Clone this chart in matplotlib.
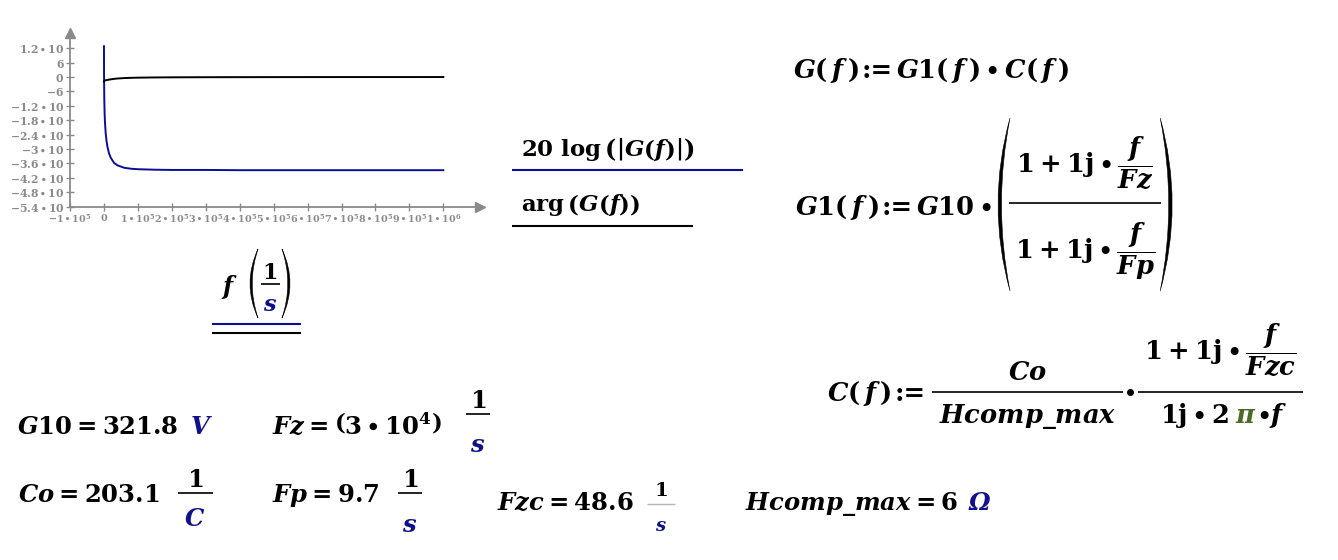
import matplotlib
matplotlib.use('Agg')
import matplotlib.pyplot as plt
from matplotlib.path import Path
from matplotlib.patches import PathPatch

# ---------------- data ----------------
freq_hz = [100, 300, 1000, 2000, 3000, 5000, 7500, 1e4, 1.5e4, 2e4, 3e4, 4e4,
           6e4, 8e4, 1e5, 1.5e5, 2e5, 3e5, 4e5, 5e5, 7e5, 1e6]
gain_db = [12.8, 1.2, -9.2, -15.2, -18.7, -23.1, -26.5, -28.8, -31.8, -33.6, -35.8,
           -36.8, -37.8, -38.2, -38.4, -38.6, -38.7, -38.7, -38.8, -38.8, -38.8, -38.8]
phase_rad = [-1.92, -1.69, -1.58, -1.52, -1.48, -1.41, -1.33, -1.25, -1.11, -0.99,
             -0.79, -0.64, -0.46, -0.36, -0.29, -0.20, -0.15, -0.10, -0.08, -0.06,
             -0.04, -0.03]

x_ticks = [-1e5, 0, 1e5, 2e5, 3e5, 4e5, 5e5, 6e5, 7e5, 8e5, 9e5, 1e6]
x_tick_labels = [r'$-1\bullet10^{5}$', r'$0$', r'$1\bullet10^{5}$', r'$2\bullet10^{5}$',
                 r'$3\bullet10^{5}$', r'$4\bullet10^{5}$', r'$5\bullet10^{5}$',
                 r'$6\bullet10^{5}$', r'$7\bullet10^{5}$', r'$8\bullet10^{5}$',
                 r'$9\bullet10^{5}$', r'$1\bullet10^{6}$']
y_ticks = [12, 6, 0, -6, -12, -18, -24, -30, -36, -42, -48, -54]
y_tick_labels = [r'$1.2\bullet10$', r'$6$', r'$0$', r'$-6$', r'$-1.2\bullet10$',
                 r'$-1.8\bullet10$', r'$-2.4\bullet10$', r'$-3\bullet10$',
                 r'$-3.6\bullet10$', r'$-4.2\bullet10$', r'$-4.8\bullet10$',
                 r'$-5.4\bullet10$']

# ---------------- style ----------------
plt.rcParams['mathtext.fontset'] = 'custom'
plt.rcParams['mathtext.rm'] = 'DejaVu Serif:bold'
plt.rcParams['mathtext.bf'] = 'DejaVu Serif:bold'
plt.rcParams['mathtext.it'] = 'DejaVu Serif:italic:bold'
plt.rcParams['font.family'] = ['DejaVu Serif']
plt.rcParams['font.weight'] = 'bold'

BLUE = '#0c0c96'
UNIT = '#10108c'
GRAY = '#8a8a8a'
GREEN = '#4a6a28'

W, H = 1338, 560
fig = plt.figure(figsize=(W / 100, H / 100), dpi=100)

# ---------------- plot ----------------
ax_l, ax_r, ax_b, ax_t = 70, 480, 206.7, 33
ax = fig.add_axes([ax_l / W, 1 - ax_b / H, (ax_r - ax_l) / W, (ax_b - ax_t) / H])
ax.set_xlim(-1e5, 1.108e6)
ax.set_ylim(-54, 18.3)
ax.patch.set_visible(False)
for s in ('top', 'right'):
    ax.spines[s].set_visible(False)
for s in ('left', 'bottom'):
    ax.spines[s].set_color(GRAY)
    ax.spines[s].set_linewidth(1.3)
ax.plot(freq_hz, gain_db, color=BLUE, lw=1.4, solid_joinstyle='round')
ax.plot(freq_hz, phase_rad, color='black', lw=1.4, solid_joinstyle='round')
ax.set_xticks(x_ticks, x_tick_labels)
ax.set_yticks(y_ticks, y_tick_labels)
ax.tick_params(direction='inout', length=6, width=1, color=GRAY,
               labelcolor=GRAY, pad=1)
ax.tick_params(axis='x', labelsize=6.9)
ax.tick_params(axis='y', labelsize=7.8)
ax.plot(1, 0, marker='>', ms=7, color=GRAY, transform=ax.transAxes, clip_on=False)
ax.plot(0, 1, marker='^', ms=7, color=GRAY, transform=ax.transAxes, clip_on=False)

# ---------------- canvas for the worksheet math ----------------
cv = fig.add_axes([0, 0, 1, 1])
cv.set_xlim(0, W)
cv.set_ylim(H, 0)
cv.axis('off')
cv.patch.set_visible(False)
R = fig.canvas.get_renderer()


def T(x, y, s, size, color='black', ha='left', va='baseline', **kw):
    return cv.text(x, y, s, fontsize=size, color=color, ha=ha, va=va, **kw)


def width(t):
    return t.get_window_extent(R).width


def seq(x, y, pieces, size):
    """pieces: list of (text, color[, style]) or a number (extra gap in px)."""
    for p in pieces:
        if isinstance(p, (int, float)):
            x += p
            continue
        s, c = p[0], p[1]
        kw = {'fontstyle': p[2]} if len(p) > 2 else {}
        t = T(x, y, s, size, c, **kw)
        x += width(t)
    return x


def hline(x0, x1, y, color='black', lw=1.2):
    cv.plot([x0, x1], [y, y], color=color, lw=lw, solid_capstyle='butt')


def paren(x_tip, x_mid, ytop, ybot, thick):
    ym = (ytop + ybot) / 2
    c1 = 2 * x_mid - x_tip
    c2 = 2 * (x_mid + thick) - x_tip
    verts = [(x_tip, ytop), (c1, ym), (x_tip, ybot), (x_tip, ybot), (c2, ym), (x_tip, ytop), (x_tip, ytop)]
    codes = [Path.MOVETO, Path.CURVE3, Path.CURVE3, Path.LINETO, Path.CURVE3, Path.CURVE3, Path.CLOSEPOLY]
    cv.add_patch(PathPatch(Path(verts, codes), facecolor='black', edgecolor='black', lw=0.4))


K = 'black'
MS = 18.5   # main equations
BS = 17.5   # definitions
FA = r'\left(\,f\,\right)'

# G(f) := G1(f) . C(f)
seq(793, 78, [(r'$G' + FA + '$', K), 3, (':=', K), 3,
              (r'$G1' + FA + r'\bullet C' + FA + '$', K)], MS)

# G1(f) := G10 . ( ... )
xe = seq(795, 215, [(r'$G1' + FA + '$', K), 3, (':=', K), 3, (r'$G10\bullet$', K)], MS)
pl = xe + 6
num = T(0, 0, r'$1+\mathrm{1j}\bullet\dfrac{f}{Fz}$', MS)
den = T(0, 0, r'$1+\mathrm{1j}\bullet\dfrac{f}{Fp}$', MS)
wf = max(width(num), width(den)) + 12
xc = pl + 11 + wf / 2
num.set_position((xc, 174)); num.set_ha('center')
den.set_position((xc, 260)); den.set_ha('center')
hline(pl + 11, pl + 11 + wf, 203)
paren(pl + 12, pl, 118, 291, 3.4)
paren(pl + 10 + wf, pl + 22 + wf, 118, 291, -3.4)

# C(f) := Co/Hcomp_max . (1+1j f/Fzc)/(1j 2 pi f)
xe = seq(827, 401, [(r'$C' + FA + '$', K), 3, (':=', K)], MS)
f1a = xe + 6
hd = T(0, 0, r'$Hcomp\_max$', MS)
w1 = width(hd) + 14
hd.set_position((f1a + w1 / 2, 423)); hd.set_ha('center')
T(f1a + w1 / 2, 380, r'$Co$', MS, ha='center')
hline(f1a, f1a + w1, 392)
xb = f1a + w1 + 7
cv.plot([xb], [392], 'o', color='black', ms=4)
f2a = xb + 8
nm2 = T(f2a + 6, 361, r'$1+\mathrm{1j}\bullet\dfrac{f}{Fzc}$', MS)
w2 = width(nm2) + 12
hline(f2a, f2a + w2, 392)
seq(f2a + 22, 423, [(r'$\mathrm{1j}\bullet2$', K), 6, (r'$\pi$', GREEN),
                    (r'$\bullet f$', K)], MS)

# legend expressions
T(521, 156, r'$20\ \log\left(\left|G\left(f\right)\right|\right)$', 16.5)
hline(512, 743, 170, BLUE, 1.5)
T(521, 211, r'$\arg\left(G\left(f\right)\right)$', 16.5)
hline(512, 693, 226, K, 1.5)

# x axis expression f (1/s)
T(221, 294, r'$f$', 17)
paren(258, 250, 249, 318, 2.2)
paren(282, 290, 249, 318, -2.2)
hline(261, 280, 284)
T(270, 279, r'$1$', 16, ha='center')
T(270, 311, r'$s$', 16, UNIT, ha='center')
hline(212, 301, 324, BLUE, 1.5)
hline(212, 301, 333, K, 1.5)

# definitions
seq(17, 434, [(r'$G10=321.8$', K), 12, (r'$V$', UNIT)], BS)
T(272, 434, r'$Fz=\left(3\bullet10^{4}\right)$', BS)
hline(466, 490, 414)
T(478, 408, r'$1$', BS, ha='center')
T(478, 452, r'$s$', BS, UNIT, ha='center')

T(18, 502, r'$Co=203.1$', BS)
hline(178, 213, 493)
T(195, 487, r'$1$', BS, ha='center')
T(195, 526, r'$C$', BS, UNIT, ha='center')

T(272, 502, r'$Fp=9.7$', BS)
hline(398, 422, 493)
T(410, 487, r'$1$', BS, ha='center')
T(410, 532, r'$s$', BS, UNIT, ha='center')

T(497, 510, r'$Fzc=48.6$', BS)
hline(647, 675, 504, '#b4b4b4', 1.0)
T(661, 496, r'$1$', 14, ha='center')
T(661, 531, r'$s$', 13, UNIT, ha='center')

seq(745, 510, [(r'$Hcomp\_max=6$', K), 10, ('\u03A9', UNIT, 'italic')], BS)

fig.savefig('out.png', dpi=100)
